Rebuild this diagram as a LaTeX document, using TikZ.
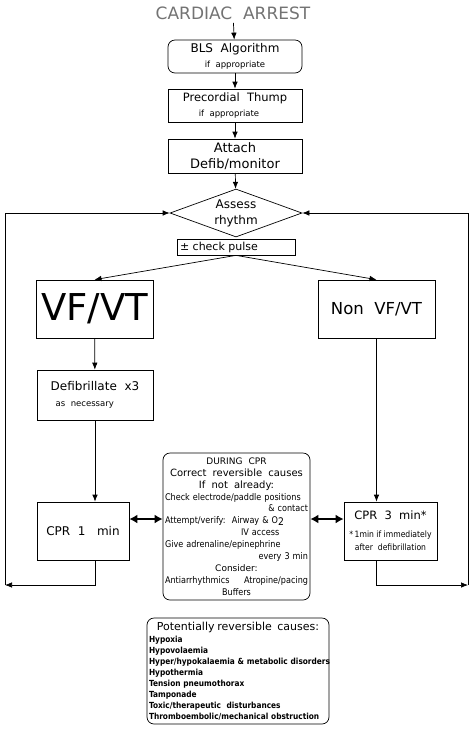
\documentclass[tikz,border=0pt]{standalone}
\usepackage{fontspec}
\setmainfont{DejaVu Sans}
\newfontfamily\narrowfont{DejaVu Sans}[FakeStretch=0.88]
\usetikzlibrary{arrows.meta,shapes.geometric}

\newcommand{\ctrline}[1]{\hfill{#1}\hfill\null}
\newcommand{\rgtline}[1]{\hfill{#1}}
\newcommand{\fsz}[2]{\fontsize{#1}{#2}\selectfont}

\tikzset{
  box/.style={draw,line width=0.7pt,inner sep=2pt,align=center},
  rbox/.style={box,rounded corners=7pt},
  arr/.style={-{Latex[length=7pt,width=5.5pt]},line width=0.7pt},
  dbl/.style={{Latex[length=8pt,width=9pt]}-{Latex[length=8pt,width=9pt]},line width=2.2pt},
}

\begin{document}
\begin{tikzpicture}[x=1pt,y=-1pt]
\useasboundingbox (0,0) rectangle (474,729);
\node [text=black!55,font=\fsz{17}{17}] (title) at (233,13) {CARDIAC\ \ ARREST};
\node [rbox,minimum width=134pt,minimum height=33pt,font=\fsz{12}{14}] (bls) at (235,56.5) {BLS\ \ Algorithm\\[1pt]{\fsz{8.5}{10}if\ \ appropriate}};
\node [box,minimum width=134pt,minimum height=33pt,font=\fsz{11.5}{14}] (thump) at (235,105.5) {Precordial\ \ Thump\\[1pt]\hspace*{-12pt}{\fsz{8.5}{10}if\ \ appropriate}};
\node [box,minimum width=134pt,minimum height=34pt,font=\fsz{13}{16}] (attach) at (235,156) {Attach\\Defib/monitor};
\node [draw,line width=0.7pt,diamond,aspect=2.75,minimum width=132pt,minimum height=48pt,inner sep=0pt,align=center,font=\fsz{12}{16}] (assess) at (236,213) {Assess\\rhythm};
\node [box,minimum width=118pt,minimum height=16pt,inner sep=0pt,font=\fsz{11}{12}] (pulse) at (236,247) {\makebox[112pt][l]{± check\ pulse}};
\node [box,minimum width=117pt,minimum height=58pt,font=\fsz{37}{40}] (vf) at (94.5,309) {VF/VT};
\node [box,minimum width=117pt,minimum height=58pt,font=\fsz{16.5}{18}] (nonvf) at (376.5,309) {Non\ \ VF/VT};
\node [box,minimum width=116pt,minimum height=50pt,align=left,font=\fsz{12}{14}] (defib) at (95,395) {Defibrillate\ \ x3\\[2pt]\hspace*{5pt}{\fsz{8.5}{10}as\ \ necessary}};
\node [box,minimum width=92pt,minimum height=58pt,font=\fsz{12}{14}] (cprone) at (83,531) {CPR\ \ 1\ \ \ min};
\node [box,minimum width=93pt,minimum height=58pt,font=\fsz{11.5}{13}] (cprthree) at (390.5,531) {CPR\ \ 3\ \ min*\\[5pt]{\narrowfont\fsz{8.7}{11}*\,1min if immediately}\\{\narrowfont\fsz{8.7}{11}after\ \ defibrillation}};
\node [rbox,text width=143pt,align=left,minimum height=147pt,font=\narrowfont\fsz{9.2}{11.9}] (during) at (236.5,526.5) {%
\ctrline{\rmfamily\fsz{9}{11.9}DURING\ \ CPR}\\
\ctrline{\rmfamily\fsz{10}{11.9}Correct\ \ reversible\ \ causes}\\
\ctrline{\rmfamily\fsz{10}{11.9}If\ \ not\ \ already:}\\
Check electrode/paddle positions\\
\rgtline{\&\ contact\hspace*{8pt}}\\
Attempt/verify:\ \ Airway \&\ O\raisebox{-2pt}{\fsz{10.5}{11.9}2}\\
\hspace*{76pt}IV access\\
Give adrenaline/epinephrine\\
\rgtline{every 3 min}\\
\ctrline{\rmfamily\fsz{9}{11.9}Consider:}\\
Antiarrhythmics\hfill Atropine/pacing\\
\ctrline{Buffers}};
\node [rbox,text width=178pt,align=left,minimum height=106pt,font=\narrowfont\bfseries\fsz{8.4}{11}] (causes) at (238,671) {%
\ctrline{\rmfamily\mdseries\fsz{11}{11}Potentially\ reversible\ \ causes:}\\[1pt]
Hypoxia\\
Hypovolaemia\\
\mbox{Hyper/hypokalaemia \&\ metabolic disorders}\\
Hypothermia\\
Tension pneumothorax\\
Tamponade\\
Toxic/therapeutic\ \ disturbances\\
Thromboembolic/mechanical obstruction};
\coordinate (lcorner) at (5,585);
\coordinate (rcorner) at (468,585);
\draw [arr] (title) to (bls);
\draw [arr] (bls) to (thump);
\draw [arr] (thump) to (attach);
\draw [arr] (attach) to (assess);
\draw [arr] (pulse.south) to (vf.north);
\draw [arr] (pulse.south) to (nonvf.north);
\draw [arr] (vf) to (defib);
\draw [arr] (defib.south) to (defib.south |- cprone.north);
\draw [arr] (nonvf.south) to (nonvf.south |- cprthree.north);
\draw [dbl] ([yshift=12pt]cprone.east) to ([yshift=7.5pt]during.west);
\draw [dbl] ([yshift=7.5pt]during.east) to ([yshift=12pt]cprthree.west);
\draw [arr] (defib.south |- cprone.south) |- (lcorner);
\draw [arr] (lcorner) |- (assess.west);
\draw [arr] (nonvf.south |- cprthree.south) |- (rcorner);
\draw [arr] (rcorner) |- (assess.east);
\end{tikzpicture}
\end{document}
